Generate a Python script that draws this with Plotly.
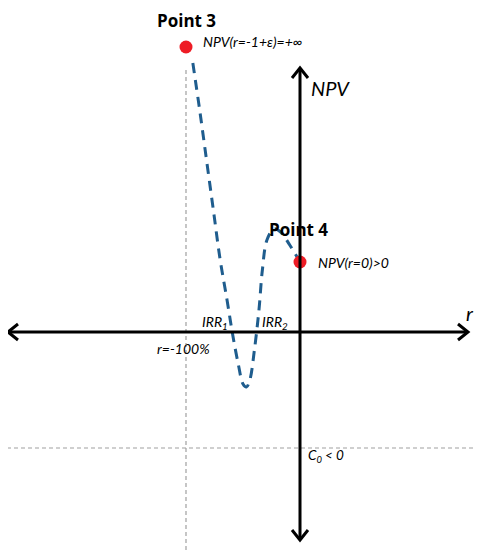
import plotly.graph_objects as go

# NPV profile (r as fraction, NPV in arbitrary units)
r_vals = [-0.94, -0.88, -0.82, -0.76, -0.70, -0.64, -0.59, -0.54, -0.50, -0.47, -0.44, -0.40, -0.36, -0.33, -0.29, -0.23, -0.17, -0.09, 0.0]
npv_vals = [2.69, 2.22, 1.72, 1.22, 0.72, 0.32, -0.03, -0.33, -0.52, -0.55, -0.48, -0.18, 0.22, 0.62, 0.92, 1.03, 1.00, 0.87, 0.70]

point_r = [-1.0, 0.0]
point_npv = [2.85, 0.70]
point_names = ["Point 3", "Point 4"]

c0_level = -1.16
r_min_line = -1.0

# mapping (1 r unit = 114 px, 1 NPV unit = 100 px)
SX, SY = 114.0, 100.0
X = lambda px: (px - 300) / SX
Y = lambda py: (332 - py) / SY

OFF = 8  # page body margin

fig = go.Figure()

# gray dashed reference lines
fig.add_shape(type="line", x0=r_min_line, x1=r_min_line, y0=Y(70), y1=Y(552),
              line=dict(color="#a0a0a0", width=1.2, dash="4px,3px"))
fig.add_shape(type="line", x0=X(0), x1=X(483), y0=c0_level, y1=c0_level,
              line=dict(color="#a0a0a0", width=1.2, dash="4px,3px"))

# main axes with chevron arrows
ax = dict(color="black", width=3)
fig.add_shape(type="line", x0=X(8), x1=X(468), y0=0, y1=0, line=ax)
fig.add_shape(type="line", x0=0, x1=0, y0=Y(68), y1=Y(540), line=ax)
chev = [
    [(X(18), Y(324)), (X(8), Y(332)), (X(18), Y(340))],
    [(X(458), Y(324)), (X(468), Y(332)), (X(458), Y(340))],
    [(X(292), Y(78)), (X(300), Y(68)), (X(308), Y(78))],
    [(X(292), Y(530)), (X(300), Y(540)), (X(308), Y(530))],
]
for c in chev:
    fig.add_trace(go.Scatter(x=[p[0] for p in c], y=[p[1] for p in c], mode="lines",
                             line=dict(color="black", width=3), hoverinfo="skip",
                             showlegend=False))

# NPV curve
fig.add_trace(go.Scatter(x=r_vals, y=npv_vals, mode="lines",
                         line=dict(color="#1f5d8e", width=3, dash="10px,7px", shape="spline"),
                         showlegend=False))

# points
fig.add_trace(go.Scatter(x=point_r, y=point_npv, mode="markers",
                         marker=dict(color="#ee1c25", size=13), showlegend=False))

font_it = "Lato"
def txt(x, y, s, size, bold=False, anchor="left", yanchor="middle"):
    fig.add_annotation(x=x, y=y, text=("<b>%s</b>" % s) if bold else s, showarrow=False,
                       xanchor=anchor, yanchor=yanchor, borderpad=0,
                       font=dict(family="Open Sans" if bold else font_it, size=size, color="black"))

txt(X(186), Y(OFF), point_names[0], 17, bold=True, anchor="center", yanchor="top")
txt(X(298), Y(229), point_names[1], 17, bold=True, anchor="center")
txt(X(202), Y(41), "<i>NPV(r=-1+ε)=+∞</i>", 14)
txt(X(317), Y(262), "<i>NPV(r=0)>0</i>", 14)
txt(X(310), Y(88), "<i>NPV</i>", 20)
txt(X(465), Y(313), "<i>r</i>", 20)
txt(X(201), Y(322), "<i>IRR<sub>1</sub></i>", 14)
txt(X(261), Y(322), "<i>IRR<sub>2</sub></i>", 14)
txt(X(156), Y(348), "<i>r=-100%</i>", 14)
txt(X(307), Y(456), "<i>C<sub>0</sub> &lt; 0</i>", 13.5)

fig.update_layout(
    width=483 - OFF, height=550 - OFF, margin=dict(l=0, r=0, t=0, b=0),
    paper_bgcolor="white", plot_bgcolor="white",
    xaxis=dict(range=[X(OFF), X(483)], visible=False, fixedrange=True),
    yaxis=dict(range=[Y(550), Y(OFF)], visible=False, fixedrange=True),
    showlegend=False,
)
fig.write_html("out.html")
